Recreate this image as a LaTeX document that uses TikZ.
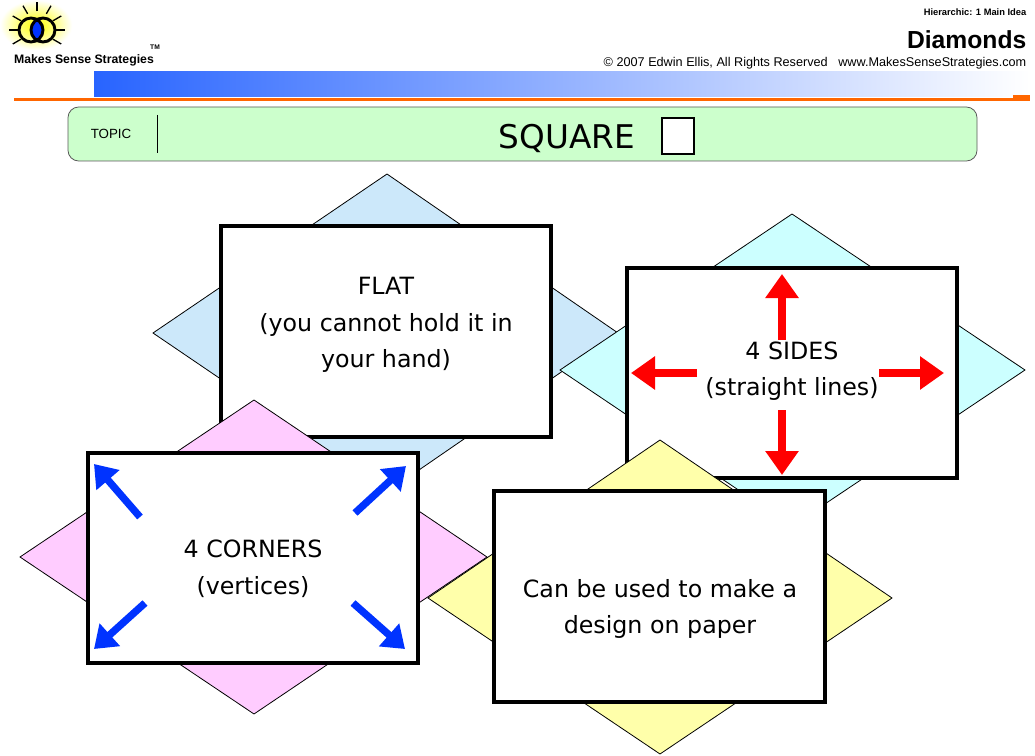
\documentclass[tikz,border=0pt]{standalone}
\usepackage{fontspec}
\setmainfont{Liberation Sans}
\newfontfamily\bodyfont{DejaVu Sans}
\usetikzlibrary{arrows.meta,calc}
\definecolor{dblue}{RGB}{204,232,250}
\definecolor{dcyan}{RGB}{204,255,255}
\definecolor{dpink}{RGB}{255,204,255}
\definecolor{dyellow}{RGB}{255,255,170}
\definecolor{topicgreen}{RGB}{204,255,204}
\definecolor{barblue}{RGB}{40,100,255}
\definecolor{orangeline}{RGB}{255,102,0}
\definecolor{arrowblue}{RGB}{0,51,255}
\tikzset{
  diam/.style={draw=black, line width=0.6pt},
  card/.style={draw=black, line width=2.6pt, fill=white},
  cardtext/.style={font=\bodyfont\fontsize{17.8}{27.5}\selectfont, align=center},
  redarr/.style={draw=red, fill=red, line width=6pt, -{Triangle[length=18pt,width=24pt]}},
  bluearr/.style={draw=arrowblue, fill=arrowblue, line width=5.5pt, -{Triangle[length=16pt,width=22pt]}},
}
\begin{document}
\begin{tikzpicture}[x=0.75pt,y=-0.75pt]
\useasboundingbox (0,0) rectangle (1035,756);
\fill[white] (0,0) rectangle (1035,756);
% logo
\shade[inner color=yellow, outer color=white] (0,0) rectangle (72,50);
\foreach \a in {0,30,60,90,120,150,180,210,330} \draw[line width=1pt] ($(37,30)+(\a:14pt)$) -- ($(37,30)+(\a:21pt)$);
\begin{scope}
\clip (31,30) circle (12);
\fill[arrowblue] (43,30) circle (12);
\end{scope}
\draw[line width=2.2pt] (31,30) circle (12) (43,30) circle (12);
\node[font=\bfseries\fontsize{9.2}{10}\selectfont] (logo) at (84,60) {Makes Sense Strategies};
\node[font=\bfseries\fontsize{5}{5}\selectfont] (tm) at (155,47) {TM};
% header texts
\node[anchor=east, font=\bfseries\fontsize{7}{8}\selectfont] (hier) at (1031,12) {Hierarchic: 1 Main Idea};
\node[anchor=east, font=\bfseries\fontsize{18.5}{20}\selectfont] (title) at (1031,40) {Diamonds};
\node[anchor=east, font=\fontsize{9.5}{10}\selectfont] (copy) at (1031,63) {© 2007 Edwin Ellis, All Rights Reserved\ \ \ www.MakesSenseStrategies.com};
\shade[left color=barblue, right color=white] (94,72) rectangle (1030,97);
\fill[orangeline] (14,98) rectangle (1030,101);
\fill[orangeline] (1013,95) rectangle (1030,98);
% topic bar
\draw[draw=gray!70!black, fill=topicgreen, rounded corners=8pt, line width=0.6pt] (68,107) rectangle (977,161);
\node[font=\fontsize{10}{11}\selectfont] (topic) at (111,134) {TOPIC};
\draw[line width=0.5pt] (157,115) -- (157,153);
\node[font=\bodyfont\fontsize{24.5}{26}\selectfont] (sq) at (567,138) {SQUARE};
\draw[fill=white, line width=0.8pt] (662,118) rectangle (694,154);
% blue diamond + FLAT
\draw[diam, fill=dblue] (387,174) -- (618,333) -- (387,492) -- (153,333) -- cycle;
\draw[card] (221,226) rectangle (551,437);
\node[cardtext] (flat) at (386,325) {FLAT\\(you cannot hold it in\\your hand)};
% cyan diamond + 4 SIDES
\draw[diam, fill=dcyan] (792,214) -- (1025,370) -- (792,526) -- (560,370) -- cycle;
\draw[card] (627,268) rectangle (957,478);
\node[cardtext] (sides) at (792,371) {4 SIDES\\(straight lines)};
\coordinate (su0) at (782,340); \coordinate (su1) at (782,274);
\coordinate (sl0) at (697,373); \coordinate (sl1) at (631,373);
\coordinate (sr0) at (879,373); \coordinate (sr1) at (944,373);
\coordinate (sd0) at (782,410); \coordinate (sd1) at (782,475);
\draw[redarr] (su0) -- (su1);
\draw[redarr] (sl0) -- (sl1);
\draw[redarr] (sr0) -- (sr1);
\draw[redarr] (sd0) -- (sd1);
% pink diamond + 4 CORNERS
\draw[diam, fill=dpink] (254,400) -- (487,557) -- (254,714) -- (20,557) -- cycle;
\draw[card] (88,453) rectangle (418,663);
\node[cardtext] (corners) at (253,569) {4 CORNERS\\(vertices)};
\coordinate (c10) at (140,517); \coordinate (c11) at (94,464);
\coordinate (c20) at (355,513); \coordinate (c21) at (406,466);
\coordinate (c30) at (145,603); \coordinate (c31) at (94,649);
\coordinate (c40) at (353,603); \coordinate (c41) at (405,649);
\draw[bluearr] (c10) -- (c11);
\draw[bluearr] (c20) -- (c21);
\draw[bluearr] (c30) -- (c31);
\draw[bluearr] (c40) -- (c41);
% yellow diamond + design
\draw[diam, fill=dyellow] (660,440) -- (892,598) -- (660,754) -- (428,598) -- cycle;
\draw[card] (494,491) rectangle (825,702);
\node[cardtext] (design) at (660,609) {Can be used to make a\\design on paper};
\end{tikzpicture}
\end{document}
